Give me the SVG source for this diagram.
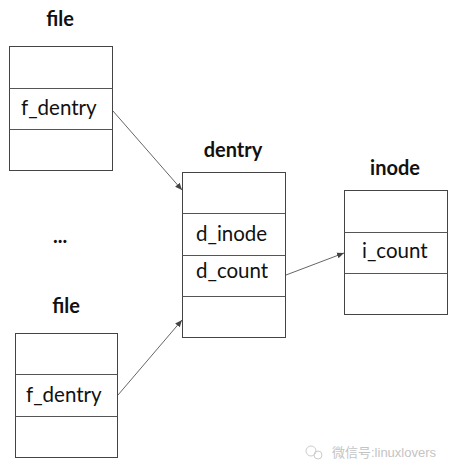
<svg xmlns="http://www.w3.org/2000/svg" width="474" height="476" viewBox="0 0 474 476">
<defs>
<marker id="ah" markerWidth="8" markerHeight="8" refX="7" refY="4" orient="auto" markerUnits="userSpaceOnUse">
<path d="M0,1 L7,4 L0,7 Z" fill="#444"/>
</marker>
<style>
.box{fill:#fff;stroke:#444;stroke-width:1}
.sep{stroke:#555;stroke-width:1}
.title{font-family:Lato,"Open Sans",sans-serif;font-weight:bold;font-size:20px;fill:#111;text-anchor:middle}
.fld{font-family:Lato,"Open Sans",sans-serif;font-size:20.5px;fill:#111}
.con{stroke:#666;stroke-width:1;fill:none;marker-end:url(#ah)}
</style>
</defs>
<rect width="474" height="476" fill="#fff"/>
<g id="file1">
<text class="title" x="60" y="26">file</text>
<rect class="box" x="9.5" y="46.5" width="103" height="124"/>
<line class="sep" x1="9.5" y1="88.5" x2="112.5" y2="88.5"/>
<line class="sep" x1="9.5" y1="129.5" x2="112.5" y2="129.5"/>
<text class="fld" x="21" y="115">f_dentry</text>
</g>
<g id="ellipsis">
<text class="title" x="60" y="243">...</text>
</g>
<g id="file2">
<text class="title" x="66" y="313">file</text>
<rect class="box" x="15.5" y="333.5" width="102" height="124"/>
<line class="sep" x1="15.5" y1="374.5" x2="117.5" y2="374.5"/>
<line class="sep" x1="15.5" y1="416.5" x2="117.5" y2="416.5"/>
<text class="fld" x="26" y="402">f_dentry</text>
</g>
<g id="dentry">
<text class="title" x="233" y="157">dentry</text>
<rect class="box" x="182.5" y="172.5" width="103" height="165"/>
<line class="sep" x1="182.5" y1="213.5" x2="285.5" y2="213.5"/>
<line class="sep" x1="182.5" y1="255.5" x2="285.5" y2="255.5"/>
<line class="sep" x1="182.5" y1="296.5" x2="285.5" y2="296.5" stroke-width="2"/>
<text class="fld" x="196" y="241">d_inode</text>
<text class="fld" x="196" y="278">d_count</text>
</g>
<g id="inode">
<text class="title" x="395" y="175">inode</text>
<rect class="box" x="344.5" y="190.5" width="103" height="124"/>
<line class="sep" x1="344.5" y1="232.5" x2="447.5" y2="232.5"/>
<line class="sep" x1="344.5" y1="273.5" x2="447.5" y2="273.5"/>
<text class="fld" x="362" y="258">i_count</text>
</g>
<g id="connectors">
<line class="con" x1="113" y1="111" x2="182" y2="190"/>
<line class="con" x1="118" y1="395" x2="182" y2="320"/>
<line class="con" x1="286" y1="275" x2="344" y2="253"/>
</g>
<g id="watermark" fill="none" stroke="#ccc" stroke-width="1">
<circle cx="311" cy="451" r="5"/>
<circle cx="318" cy="455" r="4"/>
<text x="332" y="457" stroke="none" fill="#c4c4c4" font-family="'Liberation Sans','Noto Sans CJK SC',sans-serif" font-size="13">微信号:linuxlovers</text>
</g>
</svg>
